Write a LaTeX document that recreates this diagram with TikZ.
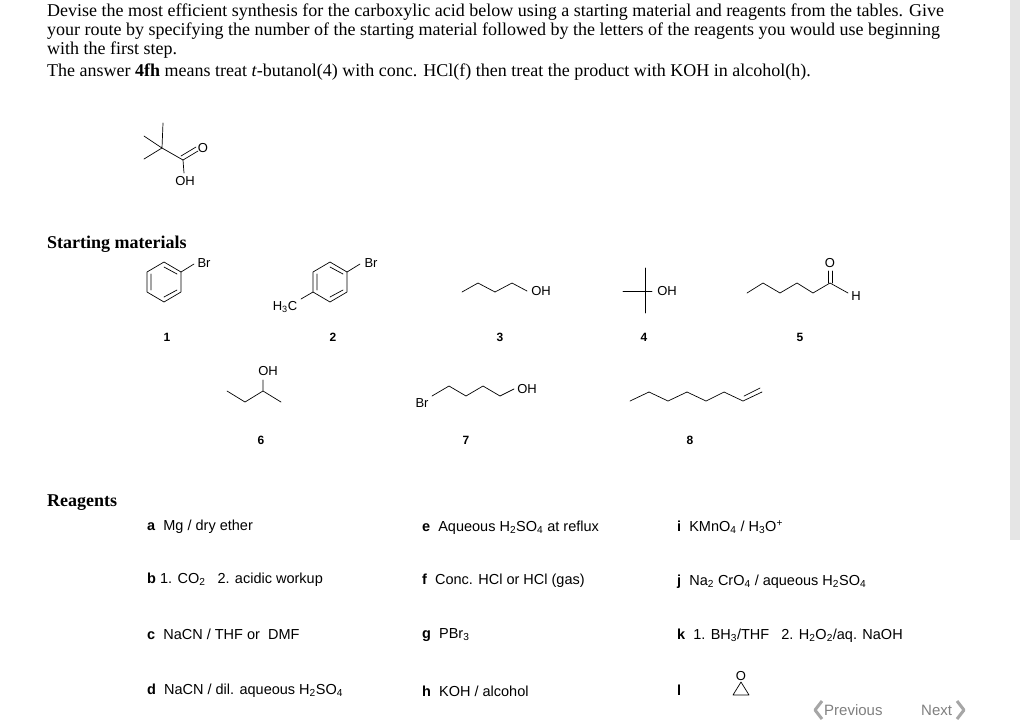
\documentclass[tikz,border=0pt]{standalone}
\usepackage{fontspec}
\setmainfont{Liberation Serif}
\setsansfont{Liberation Sans}
\begin{document}
\begin{tikzpicture}[x=1pt,y=-1pt,
  hdr/.style={anchor=west,inner sep=0,font=\fontsize{18}{21}\selectfont},
  chem/.style={inner sep=0,font=\sffamily\fontsize{13}{15}\selectfont},
  lbl/.style={inner sep=0,font=\sffamily\bfseries\fontsize{12}{14}\selectfont},
  rg/.style={anchor=west,inner sep=0,font=\sffamily\fontsize{14.5}{16}\selectfont},
  bd/.style={line width=0.7pt,line cap=round,line join=round},
  nav/.style={inner sep=0,text=gray,font=\sffamily\fontsize{15}{17}\selectfont}]
\newcommand{\sbs}[1]{\textsubscript{#1}}
\newcommand{\sps}[1]{\textsuperscript{#1}}
\useasboundingbox (0,0) rectangle (1024,724);
\fill[white] (0,0) rectangle (1024,724);
\fill[gray!20] (1010,0) rectangle (1020,540);
% header
\node[hdr] (h1) at (47,12) {Devise the most efficient synthesis for the carboxylic acid below using a starting material and reagents from the tables. Give};
\node[hdr] (h2) at (47,31) {your route by specifying the number of the starting material followed by the letters of the reagents you would use beginning};
\node[hdr] (h3) at (47,50) {with the first step.};
\node[hdr] (h4) at (47,72) {The answer \textbf{4fh} means treat \textit{t}-butanol(4) with conc. HCl(f) then treat the product with KOH in alcohol(h).};
% target
\draw[bd] (163,123)--(162,148) (144,136)--(162,148) (144,159)--(162,148)--(183,160)--(184,173);
\draw[bd] (183,160)--(198,151) (181,156)--(196,147);
\node[chem] (tO) at (203,148) {O};
\node[chem] (tOH) at (185,181) {OH};
\node[hdr,font=\bfseries\fontsize{18}{21}\selectfont] (sm) at (47,244) {Starting materials};
% 1
\draw[bd] (164,262)--(181,272)--(181,292)--(164,302)--(147,292)--(147,272)--cycle;
\draw[bd] (151,274)--(151,290) (164,297)--(177,290) (164,267)--(177,274);
\draw[bd] (181,272)--(194,264);
\node[chem] (br1) at (204,263) {Br};
\node[lbl] (l1) at (167,337) {1};
% 2
\draw[bd] (330,262)--(347,272)--(347,292)--(330,302)--(313,292)--(313,272)--cycle;
\draw[bd] (317,274)--(317,290) (330,297)--(343,290) (330,267)--(343,274);
\draw[bd] (347,272)--(360,264) (313,292)--(301,299);
\node[chem] (br2) at (371,263) {Br};
\node[chem] (me2) at (285,307) {H\sbs{3}C};
\node[lbl] (l2) at (333,337) {2};
% 3
\draw[bd] (462,292)--(478,283)--(495,292)--(512,283)--(527,291);
\node[chem] (oh3) at (541,291) {OH};
\node[lbl] (l3) at (500,337) {3};
% 4
\draw[bd] (623,291)--(652,291) (645,268)--(645,313);
\node[chem] (oh4) at (667,291) {OH};
\node[lbl] (l4) at (644,337) {4};
% 5
\draw[bd] (747,293)--(763,283)--(780,293)--(797,283)--(813,293)--(830,283)--(848,293);
\draw[bd] (828,283)--(828,271) (832,283)--(832,271);
\node[chem] (o5) at (830,263) {O};
\node[chem] (h5) at (856,296) {H};
\node[lbl] (l5) at (800,337) {5};
% 6
\draw[bd] (227,391)--(245,402)--(263,391)--(281,402) (263,391)--(263,380);
\node[chem] (oh6) at (268,371) {OH};
\node[lbl] (l6) at (261,440) {6};
% 7
\draw[bd] (432,396)--(449,386)--(466,396)--(483,386)--(500,396)--(514,389);
\node[chem] (br7) at (422,403) {Br};
\node[chem] (oh7) at (527,389) {OH};
\node[lbl] (l7) at (466,440) {7};
% 8
\draw[bd] (630,401)--(649,392)--(668,401)--(687,392)--(706,401)--(724,392)--(743,401)--(762,392)
  (744,396)--(760,388);
\node[lbl] (l8) at (690,440) {8};
% reagents
\node[hdr,font=\bfseries\fontsize{18}{21}\selectfont] (rgt) at (47,503) {Reagents};
\node[rg] (a) at (147,527) {\textbf{a} \ Mg / dry ether};
\node[rg] (b) at (147,580) {\textbf{b} 1. CO\sbs{2} \ \ 2. acidic workup};
\node[rg] (c) at (147,634) {\textbf{c} \ NaCN / THF or \ DMF};
\node[rg] (d) at (147,691) {\textbf{d} \ NaCN / dil. aqueous H\sbs{2}SO\sbs{4}};
\node[rg] (e) at (422,528) {\textbf{e} \ Aqueous H\sbs{2}SO\sbs{4} at reflux};
\node[rg] (f) at (422,581) {\textbf{f} \ Conc. HCl or HCl (gas)};
\node[rg] (g) at (422,635) {\textbf{g} \ PBr\sbs{3}};
\node[rg] (h) at (422,691) {\textbf{h} \ KOH / alcohol};
\node[rg] (i) at (677,527) {\textbf{i} \ KMnO\sbs{4} / H\sbs{3}O\sps{+}};
\node[rg] (j) at (677,582) {\textbf{j} \ Na\sbs{2} CrO\sbs{4} / aqueous H\sbs{2}SO\sbs{4}};
\node[rg] (k) at (677,636) {\textbf{k} \ 1. BH\sbs{3}/THF \ \ 2. H\sbs{2}O\sbs{2}/aq. NaOH};
\node[rg] (l) at (677,690) {\textbf{l}};
\node[chem] (ep) at (741,676) {O};
\draw[bd] (741,682)--(733,695)--(749,695)--cycle;
% nav
\draw[gray!70,line width=3pt,line join=round] (822,701)--(815,710)--(822,719);
\node[nav,anchor=west] (prev) at (824,710) {Previous};
\node[nav,anchor=west] (next) at (921,710) {Next};
\draw[gray!70,line width=3pt,line join=round] (957,701)--(964,710)--(957,719);
\end{tikzpicture}
\end{document}
